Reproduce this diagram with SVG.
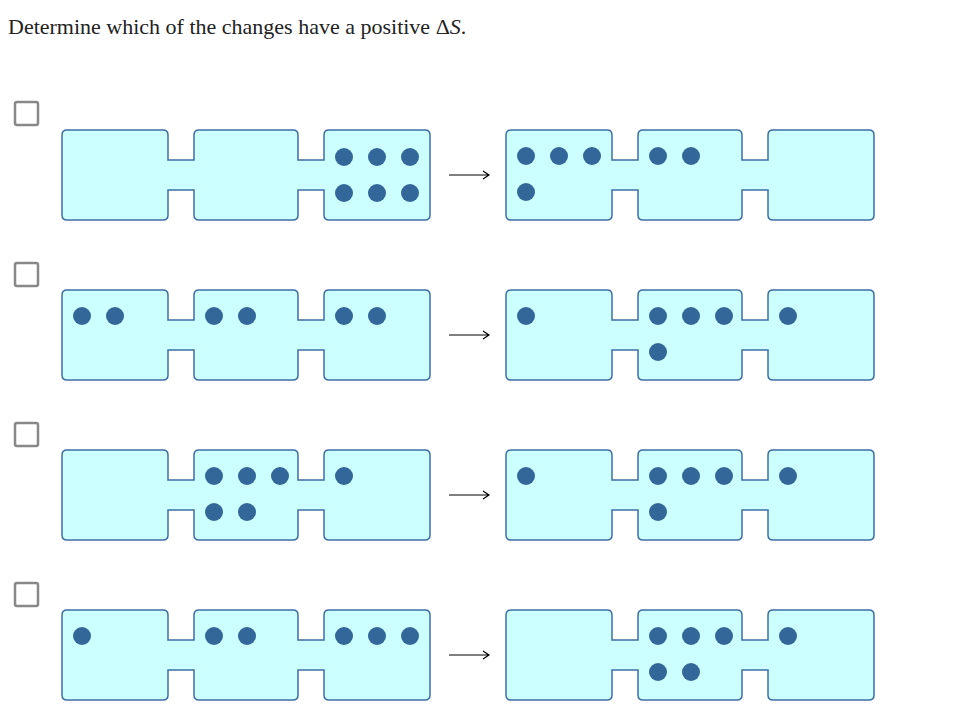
<svg xmlns="http://www.w3.org/2000/svg" xmlns:xlink="http://www.w3.org/1999/xlink" width="957" height="723" viewBox="0 0 957 723">
<style>
.c{fill:#ccffff;stroke:#3f6fa6;stroke-width:1.5}
.d{fill:#336699}
.cb{fill:#fff;stroke:#888;stroke-width:2.5}
.ar{stroke:#000;stroke-width:1.2;fill:none}
text{font-family:"Liberation Serif",serif;font-size:22px;fill:#222}
</style>
<defs>
<path id="ch" class="c" d="M5,0 H101 Q106,0 106,5 V30 H132 V5 Q132,0 137,0 H231 Q236,0 236,5 V30 H262 V5 Q262,0 267,0 H363 Q368,0 368,5 V85 Q368,90 363,90 H267 Q262,90 262,85 V60 H236 V85 Q236,90 231,90 H137 Q132,90 132,85 V60 H106 V85 Q106,90 101,90 H5 Q0,90 0,85 V5 Q0,0 5,0 Z"/>
<g id="arr"><path class="ar" d="M449,0 H488 M483,-4 L489,0 L483,4"/></g>
</defs>
<text x="8" y="34">Determine which of the changes have a positive Δ<tspan font-style="italic">S</tspan>.</text>
<g id="checkboxes">
<rect class="cb" x="15" y="102" width="23" height="23" rx="2"/>
<rect class="cb" x="15" y="263" width="23" height="23" rx="2"/>
<rect class="cb" x="15" y="423" width="23" height="23" rx="2"/>
<rect class="cb" x="15" y="583" width="23" height="23" rx="2"/>
</g>
<g id="connectors">
<use href="#arr" y="175"/><use href="#arr" y="335"/><use href="#arr" y="495"/><use href="#arr" y="655"/>
</g>
<g id="row1">
<use href="#ch" x="62" y="130"/><use href="#ch" x="506" y="130"/>
<g class="d"><circle cx="344" cy="157" r="9"/><circle cx="377" cy="157" r="9"/><circle cx="410" cy="157" r="9"/><circle cx="344" cy="193" r="9"/><circle cx="377" cy="193" r="9"/><circle cx="410" cy="193" r="9"/>
<circle cx="526" cy="156" r="9"/><circle cx="559" cy="156" r="9"/><circle cx="592" cy="156" r="9"/><circle cx="526" cy="192" r="9"/><circle cx="658" cy="156" r="9"/><circle cx="691" cy="156" r="9"/></g>
</g>
<g id="row2">
<use href="#ch" x="62" y="290"/><use href="#ch" x="506" y="290"/>
<g class="d"><circle cx="82" cy="316" r="9"/><circle cx="115" cy="316" r="9"/><circle cx="214" cy="316" r="9"/><circle cx="247" cy="316" r="9"/><circle cx="344" cy="316" r="9"/><circle cx="377" cy="316" r="9"/>
<circle cx="526" cy="316" r="9"/><circle cx="658" cy="316" r="9"/><circle cx="691" cy="316" r="9"/><circle cx="724" cy="316" r="9"/><circle cx="658" cy="352" r="9"/><circle cx="788" cy="316" r="9"/></g>
</g>
<g id="row3">
<use href="#ch" x="62" y="450"/><use href="#ch" x="506" y="450"/>
<g class="d"><circle cx="214" cy="476" r="9"/><circle cx="247" cy="476" r="9"/><circle cx="280" cy="476" r="9"/><circle cx="214" cy="512" r="9"/><circle cx="247" cy="512" r="9"/><circle cx="344" cy="476" r="9"/>
<circle cx="526" cy="476" r="9"/><circle cx="658" cy="476" r="9"/><circle cx="691" cy="476" r="9"/><circle cx="724" cy="476" r="9"/><circle cx="658" cy="512" r="9"/><circle cx="788" cy="476" r="9"/></g>
</g>
<g id="row4">
<use href="#ch" x="62" y="610"/><use href="#ch" x="506" y="610"/>
<g class="d"><circle cx="82" cy="636" r="9"/><circle cx="214" cy="636" r="9"/><circle cx="247" cy="636" r="9"/><circle cx="344" cy="636" r="9"/><circle cx="377" cy="636" r="9"/><circle cx="410" cy="636" r="9"/>
<circle cx="658" cy="636" r="9"/><circle cx="691" cy="636" r="9"/><circle cx="724" cy="636" r="9"/><circle cx="658" cy="672" r="9"/><circle cx="691" cy="672" r="9"/><circle cx="788" cy="636" r="9"/></g>
</g>
</svg>
